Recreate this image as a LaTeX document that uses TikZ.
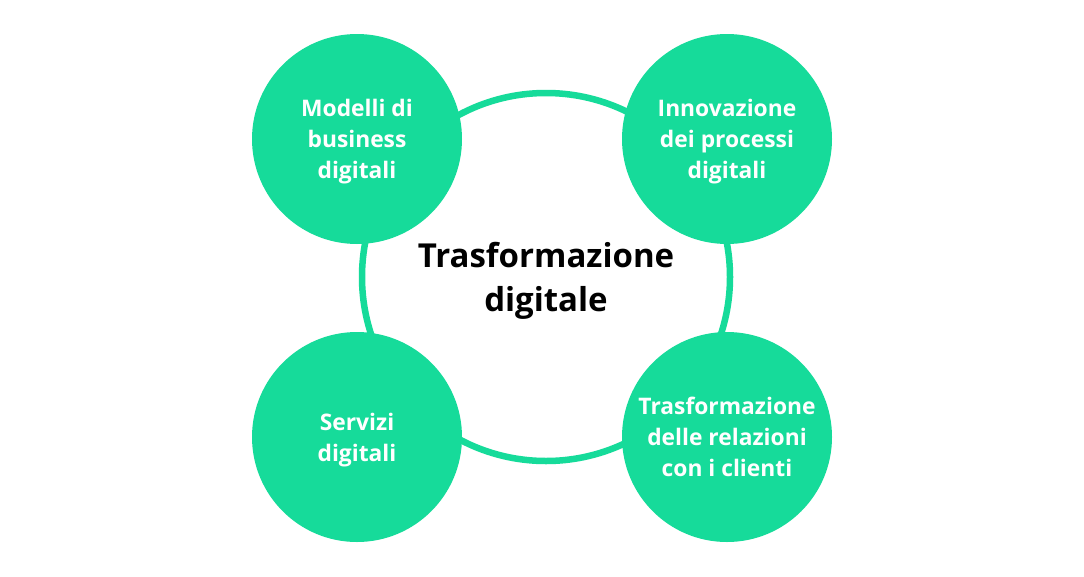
\documentclass[tikz,border=0pt]{standalone}
\usepackage{fontspec}
\setmainfont{Open Sans}
\usepackage{tikz}
\usetikzlibrary{positioning}
\usepackage{xcolor}

\definecolor{mint}{HTML}{16DB9A}

\tikzset{
    hubring/.style={draw=mint, line width=6.5pt, circle, minimum size=368pt, inner sep=0pt,
        align=center, text depth=0pt, font=\fontsize{33}{44}\selectfont\bfseries},
    topic/.style={circle, fill=mint, minimum size=210pt, inner sep=0pt, text=white,
        align=center, text depth=0pt, font=\fontsize{22.8}{31}\selectfont\bfseries}
}

\begin{document}
\begin{tikzpicture}[x=1pt, y=-1pt]
    % page frame
    \fill[white] (0,0) rectangle (1084,576);
    \useasboundingbox (0,0) rectangle (1084,576);

    % Ring with the main theme
    \node[hubring] (hub) at (546,277) {Trasformazione\\digitale};

    % Four topics on the ring
    \node[topic] (business) at (357,139) {Modelli di\\business\\digitali};
    \node[topic] (processi) at (727,139) {Innovazione\\dei processi\\digitali};
    \node[topic] (servizi) at (357,437) {Servizi\\digitali};
    \node[topic] (clienti) at (727,437) {Trasformazione\\delle relazioni\\con i clienti};

\end{tikzpicture}
\end{document}
